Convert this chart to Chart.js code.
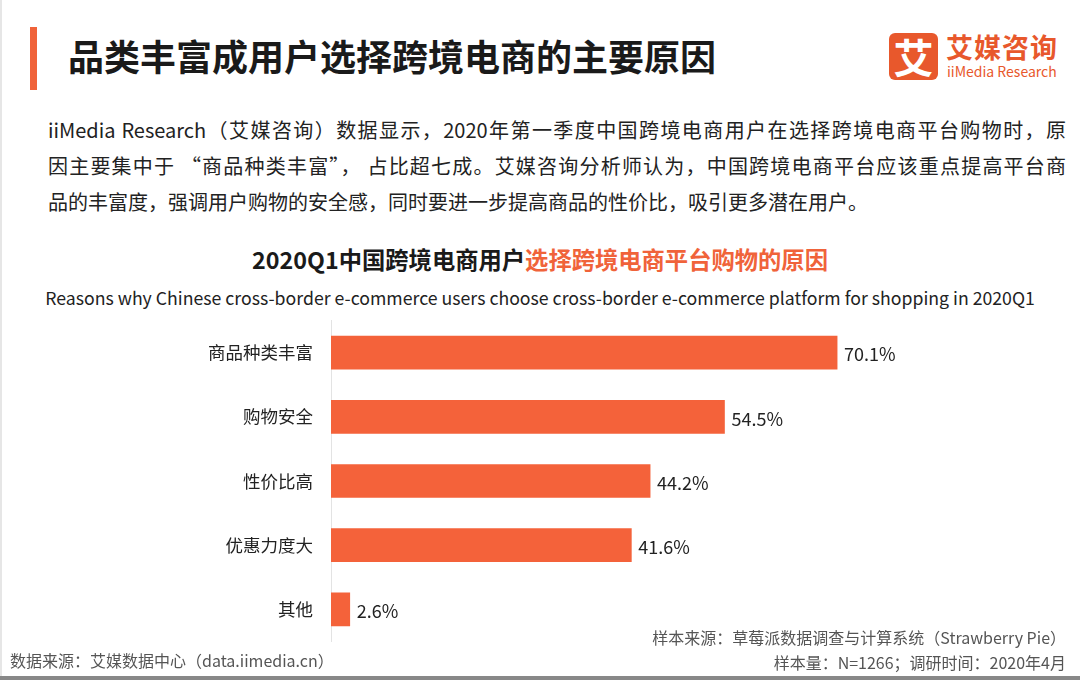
<!DOCTYPE html>
<html>
<head>
<meta charset="utf-8">
<script src="https://cdn.jsdelivr.net/npm/chart.js@4"></script>
<style>
  html, body { margin: 0; padding: 0; background: #fff; }
  body { width: 1080px; height: 680px; position: relative; overflow: hidden;
         font-family: "Noto Sans CJK SC", "Noto Sans", sans-serif; color: #1a1a1a; }
  .abs { position: absolute; white-space: nowrap; }
  #bar { left: 30px; top: 27px; width: 7px; height: 63px; background: #f0633a; }
  #title { left: 68px; top: 31px; font-size: 36px; font-weight: bold; line-height: 48px; }
  #logoBox { left: 889px; top: 33px; width: 49px; height: 47px; background: #e8582c; border-radius: 6px;
             color: #fff; font-size: 40px; font-weight: bold; line-height: 47px; text-align: center; }
  #logoCn { left: 946px; top: 30px; font-size: 27px; font-weight: bold; color: #e8582c; line-height: 34px; letter-spacing: 1px; }
  #logoEn { left: 947px; top: 62px; font-size: 14px; color: #e8582c; line-height: 18px; }
  .para { position: absolute; left: 48px; width: 1018px; font-size: 20px; line-height: 26px; color: #222; white-space: nowrap; }
  .just { text-align: justify; text-align-last: justify; }
  #ctitle { left: 0; width: 1080px; top: 243px; text-align: center; font-size: 23.3px; font-weight: bold; line-height: 32px; }
  #ctitle span { color: #f0633a; }
  #csub { left: 0; width: 1080px; top: 284px; text-align: center; font-size: 17.7px; line-height: 26px; color: #222; }
  #src { left: 10px; top: 650px; font-size: 16px; color: #555; line-height: 20px; }
  #src2 { right: 14px; top: 627px; font-size: 16px; color: #555; line-height: 20px; text-align: right; }
  #src3 { right: 14px; top: 652px; font-size: 16px; color: #555; line-height: 20px; text-align: right; }
  #bottom { left: 0; top: 676px; width: 1080px; height: 4px; background: #888; }
  #leftEdge { left: 0; top: 0; width: 2px; height: 680px; background: #e6e6e6; }
  #chart { position: absolute; left: 0; top: 292px; }
</style>
</head>
<body>
<div class="abs" id="leftEdge"></div>
<div class="abs" id="bar"></div>
<div class="abs" id="title">品类丰富成用户选择跨境电商的主要原因</div>
<div class="abs" id="logoBox">艾</div>
<div class="abs" id="logoCn">艾媒咨询</div>
<div class="abs" id="logoEn">iiMedia Research</div>

<div class="para just" style="top:117px">iiMedia Research（艾媒咨询）数据显示，2020年第一季度中国跨境电商用户在选择跨境电商平台购物时，原</div>
<div class="para just" style="top:153px">因主要集中于 “商品种类丰富”， 占比超七成。艾媒咨询分析师认为，中国跨境电商平台应该重点提高平台商</div>
<div class="para" style="top:189px">品的丰富度，强调用户购物的安全感，同时要进一步提高商品的性价比，吸引更多潜在用户。</div>

<div class="abs" id="ctitle">2020Q1中国跨境电商用户<span>选择跨境电商平台购物的原因</span></div>
<div class="abs" id="csub">Reasons why Chinese cross-border e-commerce users choose cross-border e-commerce platform for shopping in 2020Q1</div>

<canvas id="chart" width="1080" height="378"></canvas>

<div class="abs" id="src2">样本来源：草莓派数据调查与计算系统（Strawberry Pie）</div>
<div class="abs" id="src3">样本量：N=1266；调研时间：2020年4月</div>
<div class="abs" id="src">数据来源：艾媒数据中心（data.iimedia.cn）</div>
<div class="abs" id="bottom"></div>

<script>
// data
const reasons = ['商品种类丰富', '购物安全', '性价比高', '优惠力度大', '其他'];
const shares = [70.1, 54.5, 44.2, 41.6, 2.6];

const orange = '#f4623a';
const fontFamily = '"Noto Sans CJK SC", "Noto Sans", sans-serif';

// value labels at the end of each bar
const valueLabels = {
    id: 'valueLabels',
    afterDatasetsDraw(chart) {
        const ctx = chart.ctx;
        const meta = chart.getDatasetMeta(0);
        ctx.save();
        ctx.font = '18px ' + fontFamily;
        ctx.fillStyle = '#222';
        ctx.textBaseline = 'middle';
        ctx.textAlign = 'left';
        meta.data.forEach((bar, i) => {
            ctx.fillText(shares[i].toFixed(1) + '%', bar.x + 7, bar.y + 2);
        });
        ctx.restore();
    }
};

new Chart(document.getElementById('chart').getContext('2d'), {
    type: 'bar',
    data: {
        labels: reasons,
        datasets: [{
            data: shares,
            backgroundColor: orange,
            borderWidth: 0,
            barThickness: 33
        }]
    },
    options: {
        indexAxis: 'y',
        responsive: false,
        animation: false,
        layout: { padding: { top: 0, bottom: 0, left: 0, right: 27 } },
        plugins: {
            legend: { display: false },
            tooltip: { enabled: false }
        },
        scales: {
            x: { display: false, min: 0, max: 100 },
            y: {
                afterFit: (scale) => { scale.width = 331; },
                grid: { display: false, drawTicks: false },
                border: { display: true, color: '#e3e3e3', width: 1 },
                ticks: {
                    color: '#222',
                    padding: 18,
                    font: { family: fontFamily, size: 17.5 }
                }
            }
        }
    },
    plugins: [valueLabels]
});
</script>
</body>
</html>
